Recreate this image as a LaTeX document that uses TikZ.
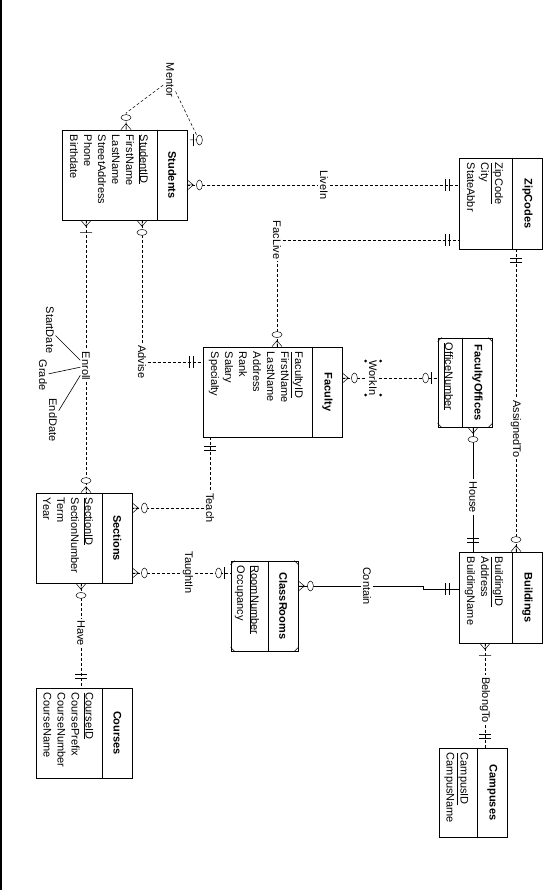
\documentclass[tikz,border=0pt]{standalone}
\usepackage{fontspec}
\setmainfont{Liberation Sans}
\usepackage{tikz}

\begin{document}
\begin{tikzpicture}[x=1pt, y=-1pt,
        every node/.style={font=\fontsize{11}{14}\selectfont},
        entity/.style={draw, line width=0.8pt, inner sep=0pt},
        header/.style={line width=0.8pt},
        entname/.style={rotate=-90, font=\fontsize{11}{14}\selectfont\bfseries},
        attrs/.style={rotate=-90, anchor=north west, align=left, inner sep=2pt},
        relname/.style={rotate=-90, inner sep=1.5pt},
        rel/.style={densely dashed, line width=0.5pt},
        solidrel/.style={line width=0.6pt},
        notch/.style={line width=0.5pt},
        sym/.style={line width=0.5pt, solid},
        zm/.pic={\draw[sym] (0,-5) -- (6,0) -- (0,5) (0,0) -- (6,0);
                 \draw[sym, fill=white] (12,0) ellipse [x radius=3, y radius=5];},
        om/.pic={\draw[sym] (0,-5) -- (6,0) -- (0,5) (0,0) -- (6,0) (12,-6) -- (12,6);},
        zo/.pic={\draw[sym] (6,-6) -- (6,6);
                 \draw[sym, fill=white] (12,0) ellipse [x radius=3, y radius=5];},
        oo/.pic={\draw[sym] (9,-6) -- (9,6) (13,-6) -- (13,6);}]
        \useasboundingbox (0,0) rectangle (546,890);
        \draw[line width=1.5pt] (0.75,0) -- (0.75,890);

        % entities
        \node[entity, minimum width=125pt, minimum height=90pt] (students) at (124.5,175) {};
        \draw[header] ([xshift=-30pt]students.north east) -- ([xshift=-30pt]students.south east);
        \node[entname] at ([xshift=-15pt]students.east) {Students};
        \node[attrs] at ([xshift=-37pt, yshift=-3pt]students.north east) {\underline{StudentID}\\FirstName\\LastName\\StreetAddress\\Phone\\Birthdate};

        \node[entity, minimum width=83pt, minimum height=91pt] (zipcodes) at (500.5,203.5) {};
        \draw[header] ([xshift=-30pt]zipcodes.north east) -- ([xshift=-30pt]zipcodes.south east);
        \node[entname] at ([xshift=-15pt]zipcodes.east) {ZipCodes};
        \node[attrs] at ([xshift=-37pt, yshift=-3pt]zipcodes.north east) {\underline{ZipCode}\\City\\StateAbbr};

        \node[entity, minimum width=139pt, minimum height=90pt] (faculty) at (272.5,392) {};
        \draw[header] ([xshift=-30pt]faculty.north east) -- ([xshift=-30pt]faculty.south east);
        \node[entname] at ([xshift=-15pt]faculty.east) {Faculty};
        \node[attrs] at ([xshift=-37pt, yshift=-3pt]faculty.north east) {\underline{FacultyID}\\FirstName\\LastName\\Address\\Rank\\Salary\\Specialty};

        \node[entity, minimum width=54pt, minimum height=89pt] (facoffices) at (465,382.5) {};
        \draw[header] ([xshift=-30pt]facoffices.north east) -- ([xshift=-30pt]facoffices.south east);
        \node[entname] at ([xshift=-15pt]facoffices.east) {FacultyOffices};
        \node[attrs] at ([xshift=-37pt, yshift=-3pt]facoffices.north east) {\underline{OfficeNumber}};

        \node[entity, minimum width=96pt, minimum height=90pt] (sections) at (84,538) {};
        \draw[header] ([xshift=-30pt]sections.north east) -- ([xshift=-30pt]sections.south east);
        \node[entname] at ([xshift=-15pt]sections.east) {Sections};
        \node[attrs] at ([xshift=-37pt, yshift=-3pt]sections.north east) {\underline{SectionID}\\SectionNumber\\Term\\Year};

        \node[entity, minimum width=96pt, minimum height=90pt] (courses) at (84,733) {};
        \draw[header] ([xshift=-30pt]courses.north east) -- ([xshift=-30pt]courses.south east);
        \node[entname] at ([xshift=-15pt]courses.east) {Courses};
        \node[attrs] at ([xshift=-37pt, yshift=-3pt]courses.north east) {\underline{CourseID}\\CoursePrefix\\CourseNumber\\CourseName};

        \node[entity, minimum width=67pt, minimum height=90pt] (classrooms) at (264.5,606) {};
        \draw[header] ([xshift=-30pt]classrooms.north east) -- ([xshift=-30pt]classrooms.south east);
        \node[entname] at ([xshift=-15pt]classrooms.east) {ClassRooms};
        \node[attrs] at ([xshift=-37pt, yshift=-3pt]classrooms.north east) {\underline{RoomNumber}\\Occupancy};

        \node[entity, minimum width=83pt, minimum height=91pt] (buildings) at (500.5,597.5) {};
        \draw[header] ([xshift=-30pt]buildings.north east) -- ([xshift=-30pt]buildings.south east);
        \node[entname] at ([xshift=-15pt]buildings.east) {Buildings};
        \node[attrs] at ([xshift=-37pt, yshift=-3pt]buildings.north east) {\underline{BuildingID}\\Address\\BuildingName};

        \node[entity, minimum width=68pt, minimum height=89pt] (campuses) at (473,792.5) {};
        \draw[header] ([xshift=-30pt]campuses.north east) -- ([xshift=-30pt]campuses.south east);
        \node[entname] at ([xshift=-15pt]campuses.east) {Campuses};
        \node[attrs] at ([xshift=-37pt, yshift=-3pt]campuses.north east) {\underline{CampusID}\\CampusName};

        % corner marks
        \foreach \e in {facoffices, classrooms} {
            \draw[notch] ([xshift=4pt]\e.north west) -- ([yshift=-4pt]\e.north west);
            \draw[notch] ([xshift=-4pt]\e.north east) -- ([yshift=-4pt]\e.north east);
            \draw[notch] ([xshift=4pt]\e.south west) -- ([yshift=4pt]\e.south west);
            \draw[notch] ([xshift=-4pt]\e.south east) -- ([yshift=4pt]\e.south east);
        }

        % relationship names
        \node[relname] (mentor) at (170,80) {Mentor};
        \node[relname] (livein) at (324,185) {LiveIn};
        \node[relname] (faclive) at (277,240) {FacLive};
        \node[relname] (assignedto) at (516,429) {AssignedTo};
        \node[relname] (advise) at (142,362) {Advise};
        \node[relname] (enroll) at (86,366) {Enroll};
        \node[relname] (teach) at (210,508) {Teach};
        \node[relname] (workin) at (373,378) {WorkIn};
        \node[relname] (house) at (473,497) {House};
        \node[relname] (contain) at (367,586) {Contain};
        \node[relname] (taughtin) at (188,573) {TaughtIn};
        \node[relname] (have) at (81,633) {Have};
        \node[relname] (belongto) at (485,700) {BelongTo};
        \node[relname] (startdate) at (50,330) {StartDate};
        \node[relname] (grade) at (43,375) {Grade};
        \node[relname] (enddate) at (53,420) {EndDate};
        \foreach \dx in {-7.5,7.5}
            \foreach \dy in {-17,17}
                \fill ([xshift=\dx pt, yshift=\dy pt]workin.center) circle (1.5);

        % connectors
        \coordinate (mentorA) at (126,113);
        \coordinate (mentorB) at (199,140);
        \coordinate (containjog) at (423,589);
        \draw[rel] (students.north -| mentorA) -- (mentorA) -- (mentor) -- (mentorB) -- (students.east |- mentorB);
        \draw[rel] (students.east |- livein) -- (livein) -- (zipcodes.west |- livein);
        \draw[rel] (faculty.north -| faclive) -- (faclive) -- (zipcodes.west |- faclive);
        \draw[rel] (zipcodes.south -| assignedto) -- (assignedto) -- (buildings.north -| assignedto);
        \draw[rel] (students.south -| advise) -- (advise) -- (faculty.west |- advise);
        \draw[rel] (students.south -| enroll) -- (enroll) -- (sections.north -| enroll);
        \draw[rel] (faculty.south -| teach) -- (teach) -- (sections.east |- teach);
        \draw[rel] (faculty.east |- workin) -- (workin) -- (facoffices.west |- workin);
        \draw[solidrel] (facoffices.south -| house) -- (house) -- (buildings.north -| house);
        \draw[solidrel] (classrooms.east |- contain) -- (contain) -- (contain -| containjog) -- (containjog) -- (buildings.west |- containjog);
        \draw[rel] (sections.east |- taughtin) -- (taughtin) -- (classrooms.west |- taughtin);
        \draw[rel] (sections.south -| have) -- (have) -- (courses.north -| have);
        \draw[rel] (buildings.south -| belongto) -- (belongto) -- (campuses.north -| belongto);
        \draw[solidrel] (startdate) -- (enroll);
        \draw[solidrel] (grade) -- (enroll);
        \draw[solidrel] (enddate) -- (enroll);

        % cardinality marks
        \pic[rotate=90] at (students.north -| mentorA) {zm};
        \pic at (students.east |- mentorB) {zo};
        \pic at (students.east |- livein) {zm};
        \pic[rotate=180] at (zipcodes.west |- livein) {oo};
        \pic[rotate=90] at (faculty.north -| faclive) {zm};
        \pic[rotate=180] at (zipcodes.west |- faclive) {oo};
        \pic[rotate=-90] at (zipcodes.south -| assignedto) {oo};
        \pic[rotate=90] at (buildings.north -| assignedto) {zm};
        \pic[rotate=-90] at (students.south -| advise) {zm};
        \pic[rotate=180] at (faculty.west |- advise) {oo};
        \pic[rotate=-90] at (students.south -| enroll) {om};
        \pic[rotate=90] at (sections.north -| enroll) {zm};
        \pic[rotate=-90] at (faculty.south -| teach) {oo};
        \pic at (sections.east |- teach) {zm};
        \pic at (faculty.east |- workin) {zm};
        \pic[rotate=180] at (facoffices.west |- workin) {zo};
        \pic[rotate=-90] at (facoffices.south -| house) {zm};
        \pic[rotate=90] at (buildings.north -| house) {oo};
        \pic at (classrooms.east |- contain) {zm};
        \pic[rotate=180] at (buildings.west |- containjog) {oo};
        \pic at (sections.east |- taughtin) {zm};
        \pic[rotate=180] at (classrooms.west |- taughtin) {zo};
        \pic[rotate=-90] at (sections.south -| have) {zm};
        \pic[rotate=90] at (courses.north -| have) {oo};
        \pic[rotate=-90] at (buildings.south -| belongto) {om};
        \pic[rotate=90] at (campuses.north -| belongto) {oo};
    \end{tikzpicture}
\end{document}
